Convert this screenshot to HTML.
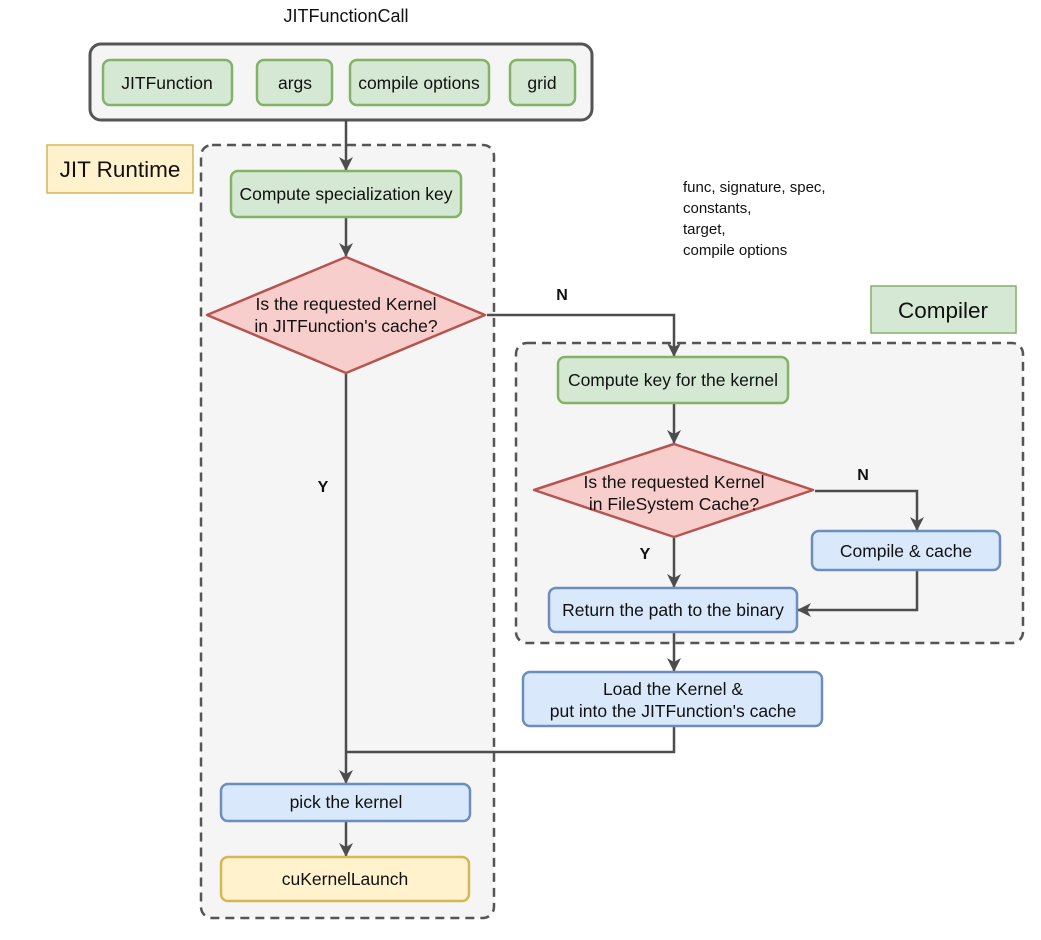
<!DOCTYPE html>
<html><head><meta charset="utf-8"><style>
body{margin:0;background:#fff}
svg{display:block}
text{font-family:"Liberation Sans",Arial,sans-serif;fill:#111}
</style></head><body>
<svg width="1041" height="940" viewBox="0 0 1041 940" xmlns="http://www.w3.org/2000/svg">
<defs>
<marker id="a" viewBox="0 0 14 14" refX="13" refY="7" markerWidth="14" markerHeight="14" orient="auto" markerUnits="userSpaceOnUse">
<path d="M0,0 L14,7 L0,14 L4,7 Z" fill="#4d4d4d"/>
</marker>
</defs>
<g font-size="17.5" text-anchor="middle">
<text x="346" y="22" font-size="18">JITFunctionCall</text>
<rect x="90" y="44" width="502" height="76" rx="11" fill="#f5f5f5" stroke="#555" stroke-width="3"/>
<g fill="#d5e8d4" stroke="#82b366" stroke-width="2.5">
<rect x="103" y="60" width="129" height="45" rx="7"/>
<rect x="257" y="60" width="75" height="45" rx="7"/>
<rect x="350" y="60" width="139" height="45" rx="7"/>
<rect x="510" y="60" width="65" height="45" rx="7"/>
</g>
<text x="167" y="89">JITFunction</text>
<text x="295" y="89">args</text>
<text x="419" y="89">compile options</text>
<text x="542" y="89">grid</text>

<rect x="47" y="145" width="146" height="48" fill="#fff2cc" stroke="#d6b656" stroke-width="1.5"/>
<text x="120" y="177" font-size="22.5">JIT Runtime</text>
<rect x="201" y="145" width="293" height="773" rx="11" fill="#f5f5f5" stroke="#555" stroke-width="2.5" stroke-dasharray="9,6"/>

<rect x="871" y="286" width="145" height="47" fill="#d5e8d4" stroke="#82b366" stroke-width="1.5"/>
<text x="943" y="318" font-size="22.5">Compiler</text>
<rect x="516" y="343" width="507" height="300" rx="11" fill="#f5f5f5" stroke="#555" stroke-width="2.5" stroke-dasharray="9,6"/>

<g text-anchor="start" font-size="15">
<text x="683" y="192">func, signature, spec,</text>
<text x="683" y="213">constants,</text>
<text x="683" y="234">target,</text>
<text x="683" y="255">compile options</text>
</g>

<g stroke="#4d4d4d" stroke-width="2.5" fill="none">
<path d="M346 120 V170" marker-end="url(#a)"/>
<path d="M346 217 V256" marker-end="url(#a)"/>
<path d="M487 315 H674 V356" marker-end="url(#a)"/>
<path d="M674 403 V443" marker-end="url(#a)"/>
<path d="M815 491 H917 V530" marker-end="url(#a)"/>
<path d="M674 538 V587" marker-end="url(#a)"/>
<path d="M917 570 V610 H798" marker-end="url(#a)"/>
<path d="M674 632 V671" marker-end="url(#a)"/>
<path d="M674 726 V752 H346"/>
<path d="M346 374 V783" marker-end="url(#a)"/>
<path d="M346 821 V856" marker-end="url(#a)"/>
</g>

<g fill="#d5e8d4" stroke="#82b366" stroke-width="2.5">
<rect x="231" y="171" width="230" height="46" rx="7"/>
<rect x="558" y="357" width="230" height="46" rx="7"/>
</g>
<text x="346" y="200">Compute specialization key</text>
<text x="673" y="386">Compute key for the kernel</text>

<g fill="#f8cecc" stroke="#b85450" stroke-width="2.5" stroke-linejoin="round">
<path d="M346 257 L485 315 L346 373 L207 315 Z"/>
<path d="M674 444 L813 490 L674 537 L534 490 Z"/>
</g>
<text x="346" y="310">Is the requested Kernel</text>
<text x="346" y="332">in JITFunction's cache?</text>
<text x="674" y="488">Is the requested Kernel</text>
<text x="674" y="510">in FileSystem Cache?</text>

<g fill="#dae8fc" stroke="#6c8ebf" stroke-width="2.5">
<rect x="812" y="531" width="188" height="39" rx="7"/>
<rect x="549" y="588" width="248" height="44" rx="7"/>
<rect x="523" y="672" width="299" height="54" rx="7"/>
<rect x="221" y="784" width="249" height="37" rx="7"/>
</g>
<rect x="221" y="857" width="248" height="44" rx="7" fill="#fff2cc" stroke="#d6b656" stroke-width="2.5"/>
<text x="906" y="557">Compile &amp; cache</text>
<text x="673" y="616">Return the path to the binary</text>
<text x="673" y="695">Load the Kernel &amp;</text>
<text x="673" y="717">put into the JITFunction's cache</text>
<text x="346" y="808">pick the kernel</text>
<text x="345" y="885">cuKernelLaunch</text>

<g font-weight="bold" font-size="16">
<text x="562" y="300">N</text>
<text x="863" y="480">N</text>
<text x="645" y="559">Y</text>
<text x="323" y="492">Y</text>
</g>
</g>
</svg>
</body></html>
